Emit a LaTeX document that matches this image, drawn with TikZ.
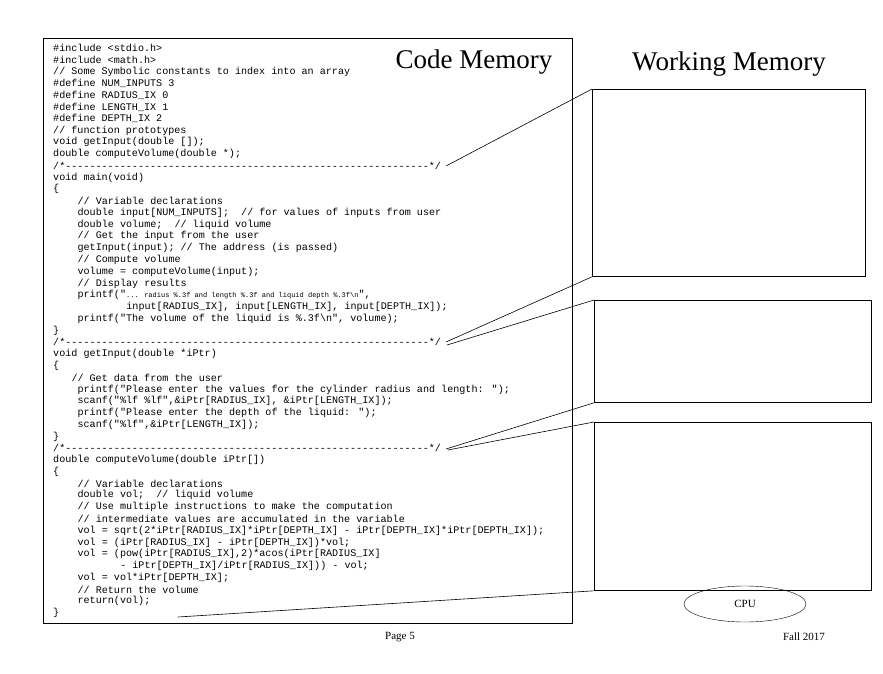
\documentclass[tikz,border=0pt]{standalone}
\usepackage{fontspec}
\setmainfont{Liberation Serif}
\newfontfamily\cf{Liberation Mono}
\usetikzlibrary{shapes.geometric}
\begin{document}
\begin{tikzpicture}[x=1pt,y=-1pt,
  cl/.style={anchor=west,inner sep=0pt,font=\cf\fontsize{10.1}{11}\selectfont},
  wm/.style={draw,line width=0.8pt},
  lk/.style={draw,line width=0.6pt}]
\useasboundingbox (0,0) rectangle (883,674);
\draw[wm] (43,38) rectangle (572,623);
\node[font=\fontsize{27}{30}\selectfont] (cm) at (474,62) {Code Memory};
\node[font=\fontsize{27}{30}\selectfont] (wmt) at (729,64) {Working Memory};
\def\L#1#2#3{\node[cl] (#1) at ({53+#2*6.1},{48+(#3-1)*11.77}) {#1text};}
\def\dashes{/*------------------------------------------------------------*/}
\node[cl] (l1) at (53,48) {\#include <stdio.h>};
\node[cl] (l2) at (53,59.8) {\#include <math.h>};
\node[cl] (l3) at (53,71.5) {// Some Symbolic constants to index into an array};
\node[cl] (l4) at (53,83.3) {\#define NUM\_INPUTS 3};
\node[cl] (l5) at (53,95.1) {\#define RADIUS\_IX 0};
\node[cl] (l6) at (53,106.9) {\#define LENGTH\_IX 1};
\node[cl] (l7) at (53,118.6) {\#define DEPTH\_IX 2};
\node[cl] (l8) at (53,130.4) {// function prototypes};
\node[cl] (l9) at (53,142.2) {void getInput(double []);};
\node[cl] (l10) at (53,153.9) {double computeVolume(double *);};
\node[cl] (l11) at (53,165.7) {\dashes};
\node[cl] (l12) at (53,177.5) {void main(void)};
\node[cl] (l13) at (53,189.3) {\{};
\node[cl] (l14) at (77.4,201.0) {// Variable declarations};
\node[cl] (l15) at (77.4,212.8) {double input[NUM\_INPUTS];\ \ // for values of inputs from user};
\node[cl] (l16) at (77.4,224.6) {double volume;\ \ // liquid volume};
\node[cl] (l17) at (77.4,236.3) {// Get the input from the user};
\node[cl] (l18) at (77.4,248.1) {getInput(input); // The address (is passed)};
\node[cl] (l19) at (77.4,259.9) {// Compute volume};
\node[cl] (l20) at (77.4,271.7) {volume = computeVolume(input);};
\node[cl] (l21) at (77.4,283.4) {// Display results};
\node[cl] (l22) at (77.4,295.2) {printf("{\fontsize{7}{8}\selectfont... radius \%.3f and length \%.3f and liquid depth \%.3f\textbackslash n}",};
\node[cl] (l23) at (126.2,307.0) {input[RADIUS\_IX], input[LENGTH\_IX], input[DEPTH\_IX]);};
\node[cl] (l24) at (77.4,318.7) {printf("The volume of the liquid is \%.3f\textbackslash n", volume);};
\node[cl] (l25) at (53,330.5) {\}};
\node[cl] (l26) at (53,342.3) {\dashes};
\node[cl] (l27) at (53,354.1) {void getInput(double *iPtr)};
\node[cl] (l28) at (53,365.8) {\{};
\node[cl] (l29) at (71.3,377.6) {// Get data from the user};
\node[cl] (l30) at (77.4,389.4) {printf("Please enter the values for the cylinder radius and length: ");};
\node[cl] (l31) at (77.4,401.1) {scanf("\%lf \%lf",\&iPtr[RADIUS\_IX], \&iPtr[LENGTH\_IX]);};
\node[cl] (l32) at (77.4,412.9) {printf("Please enter the depth of the liquid: ");};
\node[cl] (l33) at (77.4,424.7) {scanf("\%lf",\&iPtr[LENGTH\_IX]);};
\node[cl] (l34) at (53,436.5) {\}};
\node[cl] (l35) at (53,448.2) {\dashes};
\node[cl] (l36) at (53,460.0) {double computeVolume(double iPtr[])};
\node[cl] (l37) at (53,471.8) {\{};
\node[cl] (l38) at (77.4,483.5) {// Variable declarations};
\node[cl] (l39) at (77.4,495.3) {double vol;\ \ // liquid volume};
\node[cl] (l40) at (77.4,507.1) {// Use multiple instructions to make the computation};
\node[cl] (l41) at (77.4,518.9) {// intermediate values are accumulated in the variable};
\node[cl] (l42) at (77.4,530.6) {vol = sqrt(2*iPtr[RADIUS\_IX]*iPtr[DEPTH\_IX] - iPtr[DEPTH\_IX]*iPtr[DEPTH\_IX]);};
\node[cl] (l43) at (77.4,542.4) {vol = (iPtr[RADIUS\_IX] - iPtr[DEPTH\_IX])*vol;};
\node[cl] (l44) at (77.4,554.2) {vol = (pow(iPtr[RADIUS\_IX],2)*acos(iPtr[RADIUS\_IX]};
\node[cl] (l45) at (120.1,565.9) {- iPtr[DEPTH\_IX]/iPtr[RADIUS\_IX])) - vol;};
\node[cl] (l46) at (77.4,577.7) {vol = vol*iPtr[DEPTH\_IX];};
\node[cl] (l47) at (77.4,589.5) {// Return the volume};
\node[cl] (l48) at (77.4,601.3) {return(vol);};
\node[cl] (l49) at (53,613.0) {\}};
% working memory
\node[wm,minimum width=273pt,minimum height=187pt,anchor=north west,inner sep=0pt] (w1) at (592,89) {};
\node[wm,minimum width=277pt,minimum height=102pt,anchor=north west,inner sep=0pt] (w2) at (594,300) {};
\node[wm,minimum width=277pt,minimum height=168pt,anchor=north west,inner sep=0pt] (w3) at (594,422) {};
\coordinate (a1) at (446,166);
\coordinate (a2) at (446,342);
\coordinate (a3) at (447,345);
\coordinate (a4) at (446,449);
\coordinate (a5) at (448,450);
\coordinate (a6) at (178,617);
\draw[lk] (a1) -- (w1.north west);
\draw[lk] (a2) -- (w1.south west);
\draw[lk] (a3) -- (w2.north west);
\draw[lk] (a4) -- (w2.south west);
\draw[lk] (a5) -- (w3.north west);
\draw[lk] (a6) -- (w3.south west);
\node[draw,ellipse,minimum width=122pt,minimum height=36pt,font=\fontsize{11}{12}\selectfont] (cpu) at (745,604) {CPU};
\node[font=\fontsize{11}{12}\selectfont] (pg) at (400,637) {Page 5};
\node[font=\fontsize{11}{12}\selectfont] (fall) at (804,637) {Fall 2017};
\end{tikzpicture}
\end{document}
